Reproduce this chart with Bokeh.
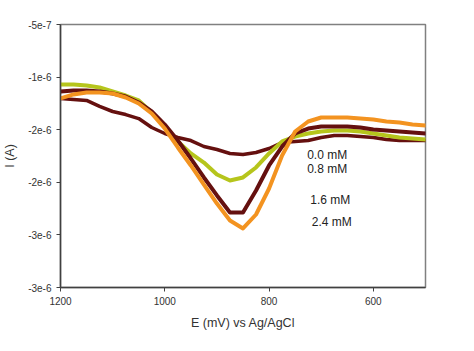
from bokeh.plotting import figure
from bokeh.models import Range1d, FixedTicker, ColumnDataSource
from bokeh.core.properties import value
from bokeh.embed import file_html
from bokeh.resources import INLINE

# Potential (mV vs Ag/AgCl)
E = [1200, 1175, 1150, 1125, 1100, 1075, 1050, 1025, 1000, 975, 950, 925, 900,
     875, 850, 825, 800, 775, 750, 725, 700, 675, 650, 625, 600, 575, 550, 525, 500]

# Currents in microamps (x1e-6 A)
i_00 = [-1.203, -1.213, -1.222, -1.279, -1.327, -1.356, -1.394, -1.479, -1.536, -1.574,
        -1.603, -1.660, -1.688, -1.726, -1.736, -1.717, -1.679, -1.622, -1.612, -1.603,
        -1.574, -1.555, -1.555, -1.565, -1.574, -1.593, -1.603, -1.603, -1.603]
i_08 = [-1.070, -1.070, -1.080, -1.099, -1.137, -1.175, -1.222, -1.337, -1.470, -1.612,
        -1.726, -1.812, -1.926, -1.983, -1.954, -1.859, -1.726, -1.612, -1.565, -1.536,
        -1.517, -1.508, -1.508, -1.517, -1.536, -1.555, -1.574, -1.584, -1.593]
i_16 = [-1.137, -1.127, -1.127, -1.137, -1.156, -1.184, -1.241, -1.327, -1.451, -1.603,
        -1.774, -1.954, -2.125, -2.287, -2.287, -2.078, -1.840, -1.660, -1.536, -1.489,
        -1.470, -1.470, -1.470, -1.479, -1.498, -1.508, -1.517, -1.527, -1.536]
i_24 = [-1.203, -1.165, -1.146, -1.146, -1.156, -1.194, -1.251, -1.346, -1.489, -1.669,
        -1.840, -2.021, -2.202, -2.363, -2.439, -2.306, -2.059, -1.745, -1.517, -1.422,
        -1.384, -1.384, -1.384, -1.394, -1.403, -1.422, -1.432, -1.451, -1.460]

labels = ["0.0 mM", "0.8 mM", "1.6 mM", "2.4 mM"]
label_E = [727, 727, 721, 718]
label_I = [-1.736, -1.869, -2.173, -2.382]

y_ticks = [-3e-6, -2.5e-6, -2e-6, -1.5e-6, -1e-6, -5e-7]
y_tick_labels = ["-3e-6", "-3e-6", "-2e-6", "-2e-6", "-1e-6", "-5e-7"]
x_ticks = [1200, 1000, 800, 600]

FONT = "Liberation Sans"
MAROON = "#65100f"
GREEN = "#b6c51c"
ORANGE = "#f39320"

p = figure(width=474, height=351, output_backend="svg", toolbar_location=None,
           x_range=Range1d(1200, 500), y_range=Range1d(-3e-6, -5e-7),
           min_border_left=60, min_border_right=49, min_border_top=24, min_border_bottom=64)

def to_amps(arr):
    return [v * 1e-6 for v in arr]

p.line(E, to_amps(i_00), color=MAROON, line_width=3.5, line_join="round", line_cap="round")
p.line(E, to_amps(i_08), color=GREEN, line_width=4, line_join="round", line_cap="round")
p.line(E, to_amps(i_16), color=MAROON, line_width=4, line_join="round", line_cap="round")
p.line(E, to_amps(i_24), color=ORANGE, line_width=4, line_join="round", line_cap="round")

src = ColumnDataSource(dict(x=label_E, y=to_amps(label_I), t=labels))
p.text(x="x", y="y", text="t", source=src, text_font=value(FONT),
       text_font_size="12px", text_color="#222222", text_baseline="middle",
       text_align="left")

p.xgrid.visible = False
p.ygrid.visible = False
p.outline_line_color = "#808080"
p.outline_line_width = 1.5
p.background_fill_color = "white"
p.border_fill_color = "white"

p.xaxis.ticker = FixedTicker(ticks=x_ticks)
p.yaxis.ticker = FixedTicker(ticks=y_ticks)
p.yaxis.major_label_overrides = {t: l for t, l in zip(y_ticks, y_tick_labels)}

for ax in (p.xaxis, p.yaxis):
    ax.axis_line_color = "#404040"
    ax.axis_line_width = 1.5
    ax.major_tick_line_color = "#404040"
    ax.major_tick_out = 4
    ax.major_tick_in = 0
    ax.minor_tick_out = 0
    ax.minor_tick_in = 0
    ax.major_label_text_font = FONT
    ax.major_label_text_font_size = "10px"
    ax.major_label_text_color = "#333333"
    ax.major_label_standoff = 5
    ax.axis_label_text_font = FONT
    ax.axis_label_text_font_size = "12.5px"
    ax.axis_label_text_font_style = "normal"
    ax.axis_label_text_color = "#333333"
    ax.axis_label_standoff = 8

p.xaxis.axis_label = "E (mV) vs Ag/AgCl"
p.yaxis.axis_label = "I (A)"

open("out.html", "w").write(file_html(p, INLINE))
